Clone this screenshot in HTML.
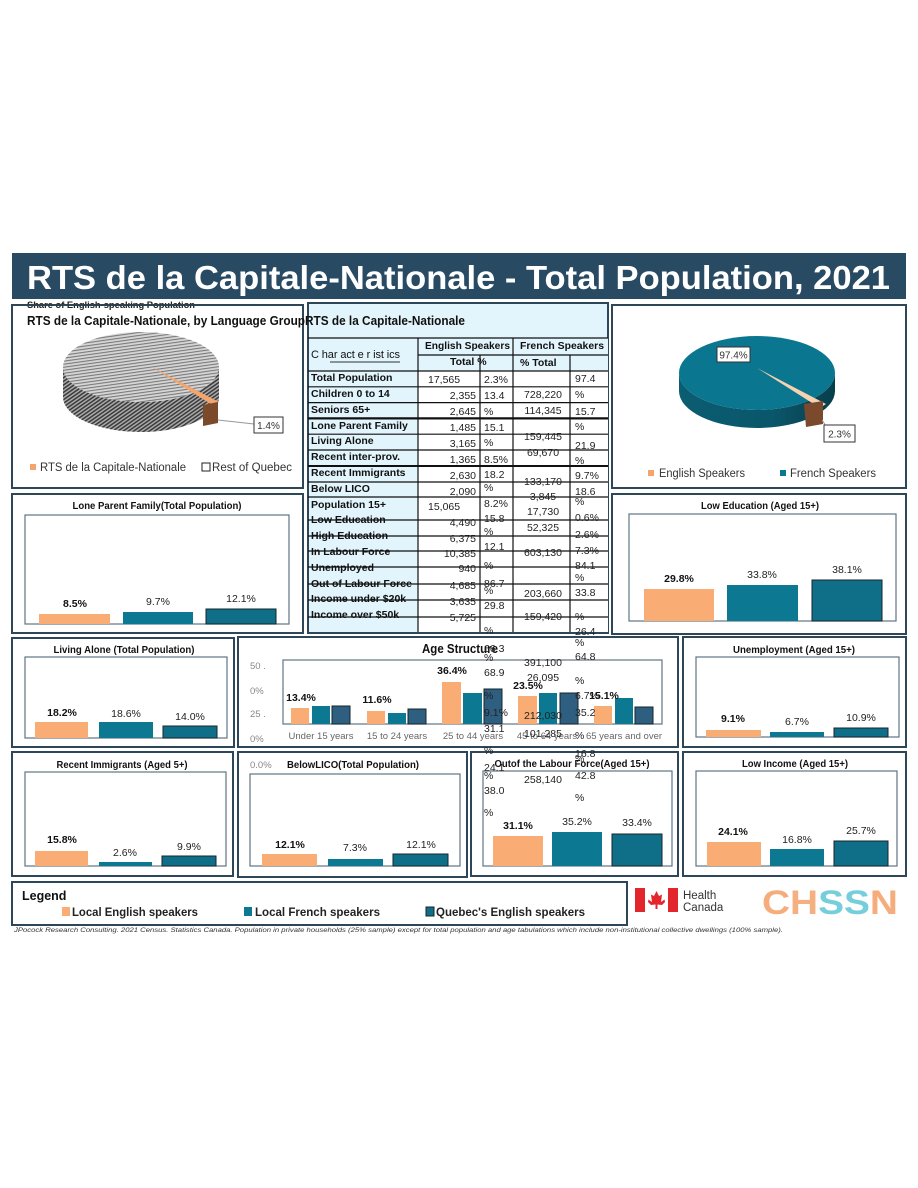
<!DOCTYPE html>
<html>
<head>
<meta charset="utf-8">
<style>
html,body{margin:0;padding:0;background:#fff;}
svg{display:block;}
text{font-family:"Liberation Sans",sans-serif;}
.pn{fill:#fff;stroke:#2d4658;stroke-width:2;}
.pa{fill:#fff;stroke:#5f7584;stroke-width:1.2;}
.o{fill:#f9ad75;}
.t{fill:#0c7891;}
.d{fill:#0f6f88;stroke:#15242c;stroke-width:1;}
.da{fill:#2f5f80;stroke:#15242c;stroke-width:1;}
.ti{font-size:10px;font-weight:bold;fill:#111;text-anchor:middle;}
.v{font-size:10.5px;fill:#222;text-anchor:middle;}
.vb{font-size:10.5px;font-weight:bold;fill:#111;text-anchor:middle;}
.tl{font-size:10.5px;font-weight:bold;fill:#111;}
.tv{font-size:10.5px;fill:#222;}
.gl{font-size:9.5px;fill:#888;}
.cat{font-size:9.5px;fill:#666;text-anchor:middle;}
.tg{stroke:#111;stroke-width:1.2;}
</style>
</head>
<body>
<svg width="918" height="1188" viewBox="0 0 918 1188" xmlns="http://www.w3.org/2000/svg">
<defs>
  <pattern id="hatTop" width="3" height="3" patternUnits="userSpaceOnUse" patternTransform="rotate(-8)">
    <rect width="3" height="3" fill="#d6d6d6"/>
    <rect width="3" height="1.1" fill="#7a7a7a"/>
  </pattern>
  <pattern id="hatSide" width="3" height="3" patternUnits="userSpaceOnUse" patternTransform="rotate(55)">
    <rect width="3" height="3" fill="#b0b0b0"/>
    <rect width="1.6" height="3" fill="#3c3c3c"/>
  </pattern>
  <linearGradient id="tealSide" x1="0" y1="0" x2="1" y2="0">
    <stop offset="0" stop-color="#0b5d72"/>
    <stop offset="0.6" stop-color="#0a566a"/>
    <stop offset="1" stop-color="#083e4c"/>
  </linearGradient>
</defs>

<!-- Title bar -->
<rect x="12" y="253" width="894" height="46" fill="#284a63"/>
<text x="27" y="289" font-size="33" font-weight="bold" fill="#fff" textLength="863" lengthAdjust="spacingAndGlyphs">RTS de la Capitale-Nationale - Total Population, 2021</text>

<!-- Top-left pie panel -->
<rect class="pn" x="12" y="305" width="291" height="183"/>
<!-- Table panel -->
<rect x="308" y="303" width="300" height="330" fill="#e2f4fc" stroke="#2d4658" stroke-width="2"/>
<!-- Right pie panel -->
<rect class="pn" x="612" y="305" width="294" height="183"/>

<text x="27" y="308" font-size="9.5" font-weight="bold" fill="#222" textLength="168" lengthAdjust="spacingAndGlyphs">Share of English-speaking Population</text>
<line x1="12" y1="305" x2="303" y2="305" stroke="#2d4658" stroke-width="1.5"/>
<text x="27" y="325" font-size="12.5" font-weight="bold" fill="#111" textLength="438" lengthAdjust="spacingAndGlyphs">RTS de la Capitale-Nationale, by Language GroupRTS de la Capitale-Nationale</text>

<!-- Left pie -->
<path d="M63,367 A78,35 0 0 0 219,367 L219,397 A78,35 0 0 1 63,397 Z" fill="url(#hatSide)"/>
<ellipse cx="141" cy="367" rx="78" ry="35" fill="url(#hatTop)"/>
<polygon points="150,366 219,402 214,406" fill="#f4a46c"/>
<polygon points="203,405 218,402 218,423 203,426" fill="#7a4a2a"/>
<line x1="218" y1="420" x2="254" y2="424" stroke="#999" stroke-width="1"/>
<rect x="254" y="417" width="29" height="16" fill="#fff" stroke="#333" stroke-width="1"/>
<text x="268.5" y="429" font-size="10" fill="#333" text-anchor="middle">1.4%</text>
<rect x="30" y="464" width="6" height="6" fill="#f4a46c"/>
<text x="40" y="471" font-size="11.5" fill="#333" textLength="146" lengthAdjust="spacingAndGlyphs">RTS de la Capitale-Nationale</text>
<rect x="202" y="463" width="8" height="8" fill="#fff" stroke="#222" stroke-width="1"/>
<text x="212" y="471" font-size="11.5" fill="#333" textLength="80" lengthAdjust="spacingAndGlyphs">Rest of Quebec</text>

<!-- Right pie -->
<path d="M679,373 A78,37 0 0 0 835,373 L835,391 A78,37 0 0 1 679,391 Z" fill="url(#tealSide)"/>
<ellipse cx="757" cy="373" rx="78" ry="37" fill="#0b7690"/>
<polygon points="757,368 826,404 820,408" fill="#f6d2b0"/>
<polygon points="804,404 823,401 823,424 806,427" fill="#7b4a2c"/>
<line x1="822" y1="420" x2="826" y2="426" stroke="#999" stroke-width="1"/>
<rect x="717" y="347" width="33" height="15" fill="#fff" stroke="#333" stroke-width="1"/>
<text x="733.5" y="358.5" font-size="10" fill="#333" text-anchor="middle">97.4%</text>
<rect x="824" y="425" width="31" height="17" fill="#fff" stroke="#333" stroke-width="1"/>
<text x="839.5" y="437.5" font-size="10" fill="#333" text-anchor="middle">2.3%</text>
<rect x="648" y="470" width="6" height="6" fill="#f4a46c"/>
<text x="659" y="477" font-size="11.5" fill="#333" textLength="86" lengthAdjust="spacingAndGlyphs">English Speakers</text>
<rect x="780" y="470" width="6" height="6" fill="#0b7690"/>
<text x="790" y="477" font-size="11.5" fill="#333" textLength="86" lengthAdjust="spacingAndGlyphs">French Speakers</text>

<!-- Table -->
<rect x="418" y="371" width="190" height="261" fill="#fff"/>
<rect x="418" y="338" width="190" height="33" fill="#e2f4fc"/>
<g class="tg">
  <line x1="308" y1="338" x2="608" y2="338"/>
  <line x1="418" y1="355" x2="608" y2="355"/>
  <line x1="308" y1="371" x2="608" y2="371"/>
  <line x1="308" y1="386.8" x2="608" y2="386.8"/>
  <line x1="308" y1="402.6" x2="608" y2="402.6"/>
  <line x1="308" y1="418.4" x2="608" y2="418.4" stroke-width="2.2"/>
  <line x1="308" y1="434.2" x2="608" y2="434.2"/>
  <line x1="308" y1="450" x2="608" y2="450"/>
  <line x1="308" y1="466" x2="608" y2="466" stroke-width="2"/>
  <line x1="308" y1="482" x2="608" y2="482"/>
  <line x1="308" y1="497" x2="608" y2="497"/>
  <line x1="308" y1="520" x2="608" y2="520"/>
  <line x1="308" y1="536" x2="608" y2="536"/>
  <line x1="308" y1="551" x2="608" y2="551"/>
  <line x1="308" y1="567" x2="608" y2="567"/>
  <line x1="308" y1="584" x2="608" y2="584"/>
  <line x1="308" y1="600" x2="608" y2="600"/>
  <line x1="308" y1="617" x2="608" y2="617"/>
  <line x1="418" y1="338" x2="418" y2="632"/>
  <line x1="480" y1="355" x2="480" y2="632"/>
  <line x1="513" y1="338" x2="513" y2="632"/>
  <line x1="570" y1="355" x2="570" y2="632"/>
</g>
<text x="425" y="349" class="tl" textLength="85" lengthAdjust="spacingAndGlyphs">English Speakers</text>
<text x="520" y="349" class="tl" textLength="84" lengthAdjust="spacingAndGlyphs">French Speakers</text>
<text x="450" y="365" class="tl">Total %</text>
<text x="520" y="366" class="tl">% Total</text>
<text x="311" y="358" font-size="11" fill="#111" textLength="89" lengthAdjust="spacing">C har act e r ist ics</text>
<line x1="330" y1="362" x2="400" y2="362" stroke="#333" stroke-width="1"/>

<g class="tl">
<text x="311" y="381">Total Population</text>
<text x="311" y="397">Children 0 to 14</text>
<text x="311" y="413">Seniors 65+</text>
<text x="311" y="429">Lone Parent Family</text>
<text x="311" y="444">Living Alone</text>
<text x="311" y="460">Recent inter-prov.</text>
<text x="311" y="476">Recent Immigrants</text>
<text x="311" y="492">Below LICO</text>
<text x="311" y="508">Population 15+</text>
<text x="311" y="523">Low Education</text>
<text x="311" y="539">High Education</text>
<text x="311" y="555">In Labour Force</text>
<text x="311" y="571">Unemployed</text>
<text x="311" y="587">Out of Labour Force</text>
<text x="311" y="602">Income under $20k</text>
<text x="311" y="618">Income over $50k</text>
</g>

<g class="tv" text-anchor="end">
<text x="428" y="383" text-anchor="start">17,565</text>
<text x="476" y="399">2,355</text>
<text x="476" y="415">2,645</text>
<text x="476" y="431">1,485</text>
<text x="476" y="447">3,165</text>
<text x="476" y="463">1,365</text>
<text x="476" y="479">2,630</text>
<text x="476" y="495">2,090</text>
<text x="428" y="510" text-anchor="start">15,065</text>
<text x="476" y="526">4,490</text>
<text x="476" y="542">6,375</text>
<text x="476" y="557">10,385</text>
<text x="476" y="572">940</text>
<text x="476" y="589">4,685</text>
<text x="476" y="605">3,635</text>
<text x="476" y="621">5,725</text>
</g>

<g class="tv">
<text x="484" y="383">2.3%</text>
<text x="484" y="399">13.4</text>
<text x="484" y="415">%</text>
<text x="484" y="431">15.1</text>
<text x="484" y="446">%</text>
<text x="484" y="463">8.5%</text>
<text x="484" y="478">18.2</text>
<text x="484" y="491">%</text>
<text x="484" y="507">8.2%</text>
<text x="484" y="522">15.8</text>
<text x="484" y="535">%</text>
<text x="484" y="550">12.1</text>
<text x="484" y="569">%</text>
<text x="484" y="587">86.7</text>
<text x="484" y="594">%</text>
<text x="484" y="609">29.8</text>
<text x="484" y="634">%</text>
</g>

<g class="tv" text-anchor="middle">
<text x="543" y="398">728,220</text>
<text x="543" y="414">114,345</text>
<text x="543" y="440">159,445</text>
<text x="543" y="456">69,670</text>
<text x="543" y="485">133,170</text>
<text x="543" y="500">3,845</text>
<text x="543" y="515">17,730</text>
<text x="543" y="531">52,325</text>
<text x="543" y="556">603,130</text>
<text x="543" y="597">203,660</text>
<text x="543" y="620">159,420</text>
</g>

<g class="tv">
<text x="575" y="382">97.4</text>
<text x="575" y="398">%</text>
<text x="575" y="415">15.7</text>
<text x="575" y="430">%</text>
<text x="575" y="449">21.9</text>
<text x="575" y="464">%</text>
<text x="575" y="479">9.7%</text>
<text x="575" y="495">18.6</text>
<text x="575" y="505">%</text>
<text x="575" y="521">0.6%</text>
<text x="575" y="538">2.6%</text>
<text x="575" y="554">7.3%</text>
<text x="575" y="569">84.1</text>
<text x="575" y="581">%</text>
<text x="575" y="596">33.8</text>
<text x="575" y="620">%</text>
<text x="575" y="635">26.4</text>
</g>

<!-- Lone Parent -->
<rect class="pn" x="12" y="494" width="291" height="139"/>
<text class="ti" x="157" y="509" textLength="169" lengthAdjust="spacingAndGlyphs">Lone Parent Family(Total Population)</text>
<rect class="pa" x="25" y="515" width="264" height="109"/>
<rect class="o" x="39" y="614" width="71" height="10"/>
<rect class="t" x="123" y="612" width="70" height="12"/>
<rect class="d" x="206" y="609" width="70" height="15"/>
<text class="vb" x="75" y="607">8.5%</text>
<text class="v" x="158" y="605">9.7%</text>
<text class="v" x="241" y="602">12.1%</text>

<!-- Low Education -->
<rect class="pn" x="612" y="494" width="294" height="140"/>
<text class="ti" x="760" y="509" textLength="118" lengthAdjust="spacingAndGlyphs">Low Education (Aged 15+)</text>
<rect class="pa" x="629" y="514" width="267" height="107"/>
<rect class="o" x="644" y="589" width="70" height="32"/>
<rect class="t" x="727" y="585" width="71" height="36"/>
<rect class="d" x="812" y="580" width="70" height="41"/>
<text class="vb" x="679" y="582">29.8%</text>
<text class="v" x="762" y="578">33.8%</text>
<text class="v" x="847" y="573">38.1%</text>

<!-- Living Alone -->
<rect class="pn" x="12" y="638" width="222" height="109"/>
<text class="ti" x="124" y="653" textLength="141" lengthAdjust="spacingAndGlyphs">Living Alone (Total Population)</text>
<rect class="pa" x="25" y="657" width="202" height="81"/>
<rect class="o" x="35" y="722" width="53" height="16"/>
<rect class="t" x="99" y="722" width="54" height="16"/>
<rect class="d" x="163" y="726" width="54" height="12"/>
<text class="vb" x="62" y="716">18.2%</text>
<text class="v" x="126" y="717">18.6%</text>
<text class="v" x="190" y="720">14.0%</text>

<!-- Age Structure -->
<rect class="pn" x="238" y="637" width="440" height="110"/>
<text x="460" y="653" font-size="12.5" font-weight="bold" fill="#111" text-anchor="middle" textLength="76" lengthAdjust="spacingAndGlyphs">Age Structure</text>
<rect class="pa" x="283" y="660" width="379" height="64"/>
<text class="gl" x="250" y="669">50 .</text>
<text class="gl" x="250" y="694">0%</text>
<text class="gl" x="250" y="717">25   .</text>
<text class="gl" x="250" y="742">0%</text>
<rect class="o" x="291" y="708" width="18" height="16"/>
<rect class="t" x="312" y="706" width="18" height="18"/>
<rect class="da" x="332" y="706" width="18" height="18"/>
<rect class="o" x="367" y="711" width="18" height="13"/>
<rect class="t" x="388" y="713" width="18" height="11"/>
<rect class="da" x="408" y="709" width="18" height="15"/>
<rect class="o" x="442" y="682" width="19" height="42"/>
<rect class="t" x="463" y="693" width="19" height="31"/>
<rect class="da" x="484" y="689" width="18" height="35"/>
<rect class="o" x="518" y="696" width="19" height="28"/>
<rect class="t" x="539" y="693" width="18" height="31"/>
<rect class="da" x="560" y="693" width="18" height="31"/>
<rect class="o" x="594" y="706" width="18" height="18"/>
<rect class="t" x="615" y="698" width="18" height="26"/>
<rect class="da" x="635" y="707" width="18" height="17"/>
<text class="vb" x="301" y="701" font-size="10">13.4%</text>
<text class="vb" x="377" y="703" font-size="10">11.6%</text>
<text class="vb" x="452" y="674" font-size="10">36.4%</text>
<text class="vb" x="528" y="689" font-size="10">23.5%</text>
<text class="vb" x="604" y="699" font-size="10">15.1%</text>
<text class="cat" x="321" y="739">Under 15 years</text>
<text class="cat" x="397" y="739">15 to 24 years</text>
<text class="cat" x="473" y="739">25 to 44 years</text>
<text class="cat" x="547" y="739">45 to 64 years</text>
<text class="cat" x="624" y="739">65 years and over</text>

<!-- Unemployment -->
<rect class="pn" x="683" y="637" width="223" height="110"/>
<text class="ti" x="794" y="653" textLength="122" lengthAdjust="spacingAndGlyphs">Unemployment (Aged 15+)</text>
<rect class="pa" x="696" y="657" width="203" height="80"/>
<rect class="o" x="706" y="730" width="55" height="7"/>
<rect class="t" x="770" y="732" width="54" height="5"/>
<rect class="d" x="834" y="728" width="54" height="9"/>
<text class="vb" x="733" y="722">9.1%</text>
<text class="v" x="797" y="725">6.7%</text>
<text class="v" x="861" y="721">10.9%</text>

<!-- Recent Immigrants -->
<rect class="pn" x="12" y="752" width="221" height="124"/>
<text class="ti" x="122" y="768" textLength="131" lengthAdjust="spacingAndGlyphs">Recent Immigrants (Aged 5+)</text>
<rect class="pa" x="25" y="772" width="201" height="94"/>
<rect class="o" x="35" y="851" width="53" height="15"/>
<rect class="t" x="99" y="862" width="53" height="4"/>
<rect class="d" x="162" y="856" width="54" height="10"/>
<text class="vb" x="62" y="843">15.8%</text>
<text class="v" x="125" y="856">2.6%</text>
<text class="v" x="189" y="850">9.9%</text>

<!-- BelowLICO -->
<rect class="pn" x="238" y="752" width="229" height="125"/>
<text class="gl" x="250" y="768">0.0%</text>
<text class="ti" x="353" y="768" textLength="132" lengthAdjust="spacingAndGlyphs">BelowLICO(Total Population)</text>
<rect class="pa" x="250" y="774" width="210" height="92"/>
<rect class="o" x="262" y="854" width="55" height="12"/>
<rect class="t" x="328" y="859" width="55" height="7"/>
<rect class="d" x="393" y="854" width="55" height="12"/>
<text class="vb" x="290" y="848">12.1%</text>
<text class="v" x="355" y="851">7.3%</text>
<text class="v" x="421" y="848">12.1%</text>

<!-- Out of Labour Force -->
<rect class="pn" x="471" y="752" width="207" height="124"/>
<text class="ti" x="572" y="767" textLength="155" lengthAdjust="spacingAndGlyphs">Outof the Labour Force(Aged 15+)</text>
<rect class="pa" x="483" y="771" width="189" height="95"/>
<rect class="o" x="493" y="836" width="50" height="30"/>
<rect class="t" x="552" y="832" width="50" height="34"/>
<rect class="d" x="612" y="834" width="50" height="32"/>
<text class="vb" x="518" y="829">31.1%</text>
<text class="v" x="577" y="825">35.2%</text>
<text class="v" x="637" y="826">33.4%</text>

<!-- Low Income -->
<rect class="pn" x="683" y="752" width="223" height="124"/>
<text class="ti" x="795" y="767" textLength="106" lengthAdjust="spacingAndGlyphs">Low Income (Aged 15+)</text>
<rect class="pa" x="696" y="771" width="201" height="95"/>
<rect class="o" x="707" y="842" width="54" height="24"/>
<rect class="t" x="770" y="849" width="54" height="17"/>
<rect class="d" x="834" y="841" width="54" height="25"/>
<text class="vb" x="733" y="835">24.1%</text>
<text class="v" x="797" y="843">16.8%</text>
<text class="v" x="861" y="834">25.7%</text>

<!-- Table overflow text -->
<g class="tv">
<text x="484" y="652">66.3</text>
<text x="484" y="661">%</text>
<text x="484" y="676">68.9</text>
<text x="484" y="699">%</text>
<text x="484" y="716">9.1%</text>
<text x="484" y="732">31.1</text>
<text x="484" y="754">%</text>
<text x="484" y="771">24.1</text>
<text x="484" y="779">%</text>
<text x="484" y="794">38.0</text>
<text x="484" y="816">%</text>
<text x="543" y="666" text-anchor="middle">391,100</text>
<text x="543" y="681" text-anchor="middle">26,095</text>
<text x="543" y="719" text-anchor="middle">212,030</text>
<text x="543" y="737" text-anchor="middle">101,285</text>
<text x="543" y="783" text-anchor="middle">258,140</text>
<text x="575" y="646">%</text>
<text x="575" y="660">64.8</text>
<text x="575" y="684">%</text>
<text x="575" y="699">6.7%</text>
<text x="575" y="716">35.2</text>
<text x="575" y="739">%</text>
<text x="575" y="757">16.8</text>
<text x="575" y="762">%</text>
<text x="575" y="779">42.8</text>
<text x="575" y="801">%</text>
</g>

<!-- Legend -->
<rect class="pn" x="12" y="882" width="615" height="43"/>
<text x="22" y="900" font-size="12.5" font-weight="bold" fill="#111">Legend</text>
<rect x="62" y="907" width="8" height="9" fill="#f9ad75"/>
<text x="72" y="916" font-size="11.5" font-weight="bold" fill="#222" textLength="126" lengthAdjust="spacingAndGlyphs">Local English speakers</text>
<rect x="244" y="907" width="8" height="9" fill="#0c7891"/>
<text x="255" y="916" font-size="11.5" font-weight="bold" fill="#222" textLength="125" lengthAdjust="spacingAndGlyphs">Local French speakers</text>
<rect x="426" y="907" width="8" height="9" fill="#0f6f88" stroke="#15242c" stroke-width="1"/>
<text x="436" y="916" font-size="11.5" font-weight="bold" fill="#222" textLength="149" lengthAdjust="spacingAndGlyphs">Quebec's English speakers</text>

<!-- Health Canada logo -->
<rect x="635" y="888" width="10" height="24" fill="#e3262b"/>
<rect x="668" y="888" width="10" height="24" fill="#e3262b"/>
<polygon points="656.5,891 659,896 662,894.5 661,902 664.5,899.5 665,902 662,905 657.5,904.5 657.5,909 655.5,909 655.5,904.5 651,905 648,902 648.5,899.5 652,902 651,894.5 654,896" fill="#e3262b"/>
<text x="683" y="899" font-size="11.5" fill="#333">Health</text>
<text x="683" y="911" font-size="11.5" fill="#333">Canada</text>

<!-- CHSSN logo -->
<text x="762" y="914" font-size="34" font-weight="bold" textLength="136" lengthAdjust="spacingAndGlyphs" opacity="0.9"><tspan fill="#f6a56e">C</tspan><tspan fill="#f3a873">H</tspan><tspan fill="#67cad8">S</tspan><tspan fill="#67cad8">S</tspan><tspan fill="#f6a56e">N</tspan></text>

<!-- Footnote -->
<text x="14" y="932" font-size="6.5" font-style="italic" fill="#333" textLength="769" lengthAdjust="spacingAndGlyphs">JPocock Research Consulting. 2021 Census. Statistics Canada. Population in private households (25% sample) except for total population and age tabulations which include non-institutional collective dwellings (100% sample).</text>
</svg>
</body>
</html>
